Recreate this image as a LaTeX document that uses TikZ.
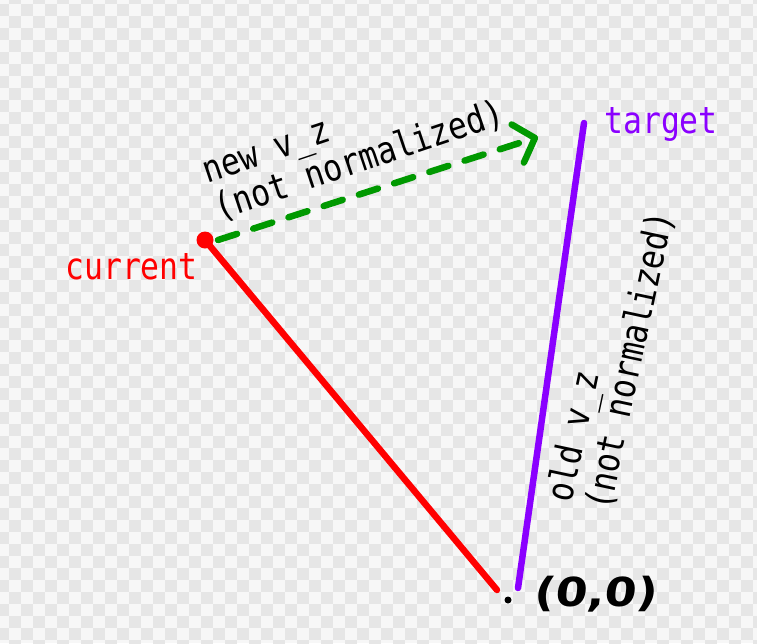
\documentclass[tikz,border=0pt]{standalone}
\usepackage{fontspec}
\usetikzlibrary{arrows.meta,positioning}
\newfontfamily\lblfont[FakeStretch=0.85]{DejaVu Sans Mono}
\newfontfamily\handfont[FakeStretch=1.15,FakeSlant=0.12]{DejaVu Sans}
\definecolor{chklight}{HTML}{F7F7F7}
\definecolor{chkdark}{HTML}{E6E6E6}
\definecolor{vzpurple}{HTML}{8A00FF}
\definecolor{vzgreen}{HTML}{009900}

\begin{document}
\begin{tikzpicture}[x=1pt,y=-1pt,
    lbl/.style={font=\lblfont\fontsize{37}{39}\selectfont, inner sep=0pt},
    vzline/.style={line width=6.5pt, line cap=round}]
    \useasboundingbox (0,0) rectangle (757,643);
    \fill[chklight] (0,0) rectangle (757,643);
    \begin{scope}
        \clip (0,0) rectangle (757,643);
        \foreach \i in {0,...,63}
            \foreach \j in {0,...,54}
                {\pgfmathtruncatemacro\odd{mod(\i+\j,2)}
                 \ifnum\odd=1 \fill[chkdark] (-3+12*\i,-8+12*\j) rectangle ++(12,12); \fi}
    \end{scope}

    \coordinate (cur) at (205,240);
    \coordinate (curend) at (497,590);
    \coordinate (gstart) at (218,240);
    \coordinate (gtip) at (538,137);
    \coordinate (tgt) at (584,123);
    \coordinate (tgtend) at (518,588);
    \coordinate (orig) at (508,600);

    \draw[vzline, red] (cur) -- (curend);
    \fill[red] (cur) circle (8.5);
    \draw[vzline, vzgreen, dash pattern=on 20pt off 17pt,
        -{Straight Barb[round, length=18pt, width=40pt]}] (gstart) -- (gtip);
    \draw[vzline, vzpurple] (tgtend) -- (tgt);
    \fill (orig) circle (3.5);

    \node[lbl, red, anchor=base east] (curlbl) at (198,279) {current};
    \node[lbl, vzpurple, anchor=base west] (tgtlbl) at (604,133) {target};
    \node[lbl, align=left, anchor=south west, rotate=18.6] (newlbl) at (221,225) {new v\_z\\(not normalized)};
    \node[lbl, align=left, anchor=south west, rotate=78] (oldlbl) at (615,513) {old v\_z\\(not normalized)};
    \node[font=\handfont\bfseries\fontsize{40}{42}\selectfont, inner sep=0pt, anchor=base west] (origlbl) at (533,606) {(0,0)};
\end{tikzpicture}
\end{document}
